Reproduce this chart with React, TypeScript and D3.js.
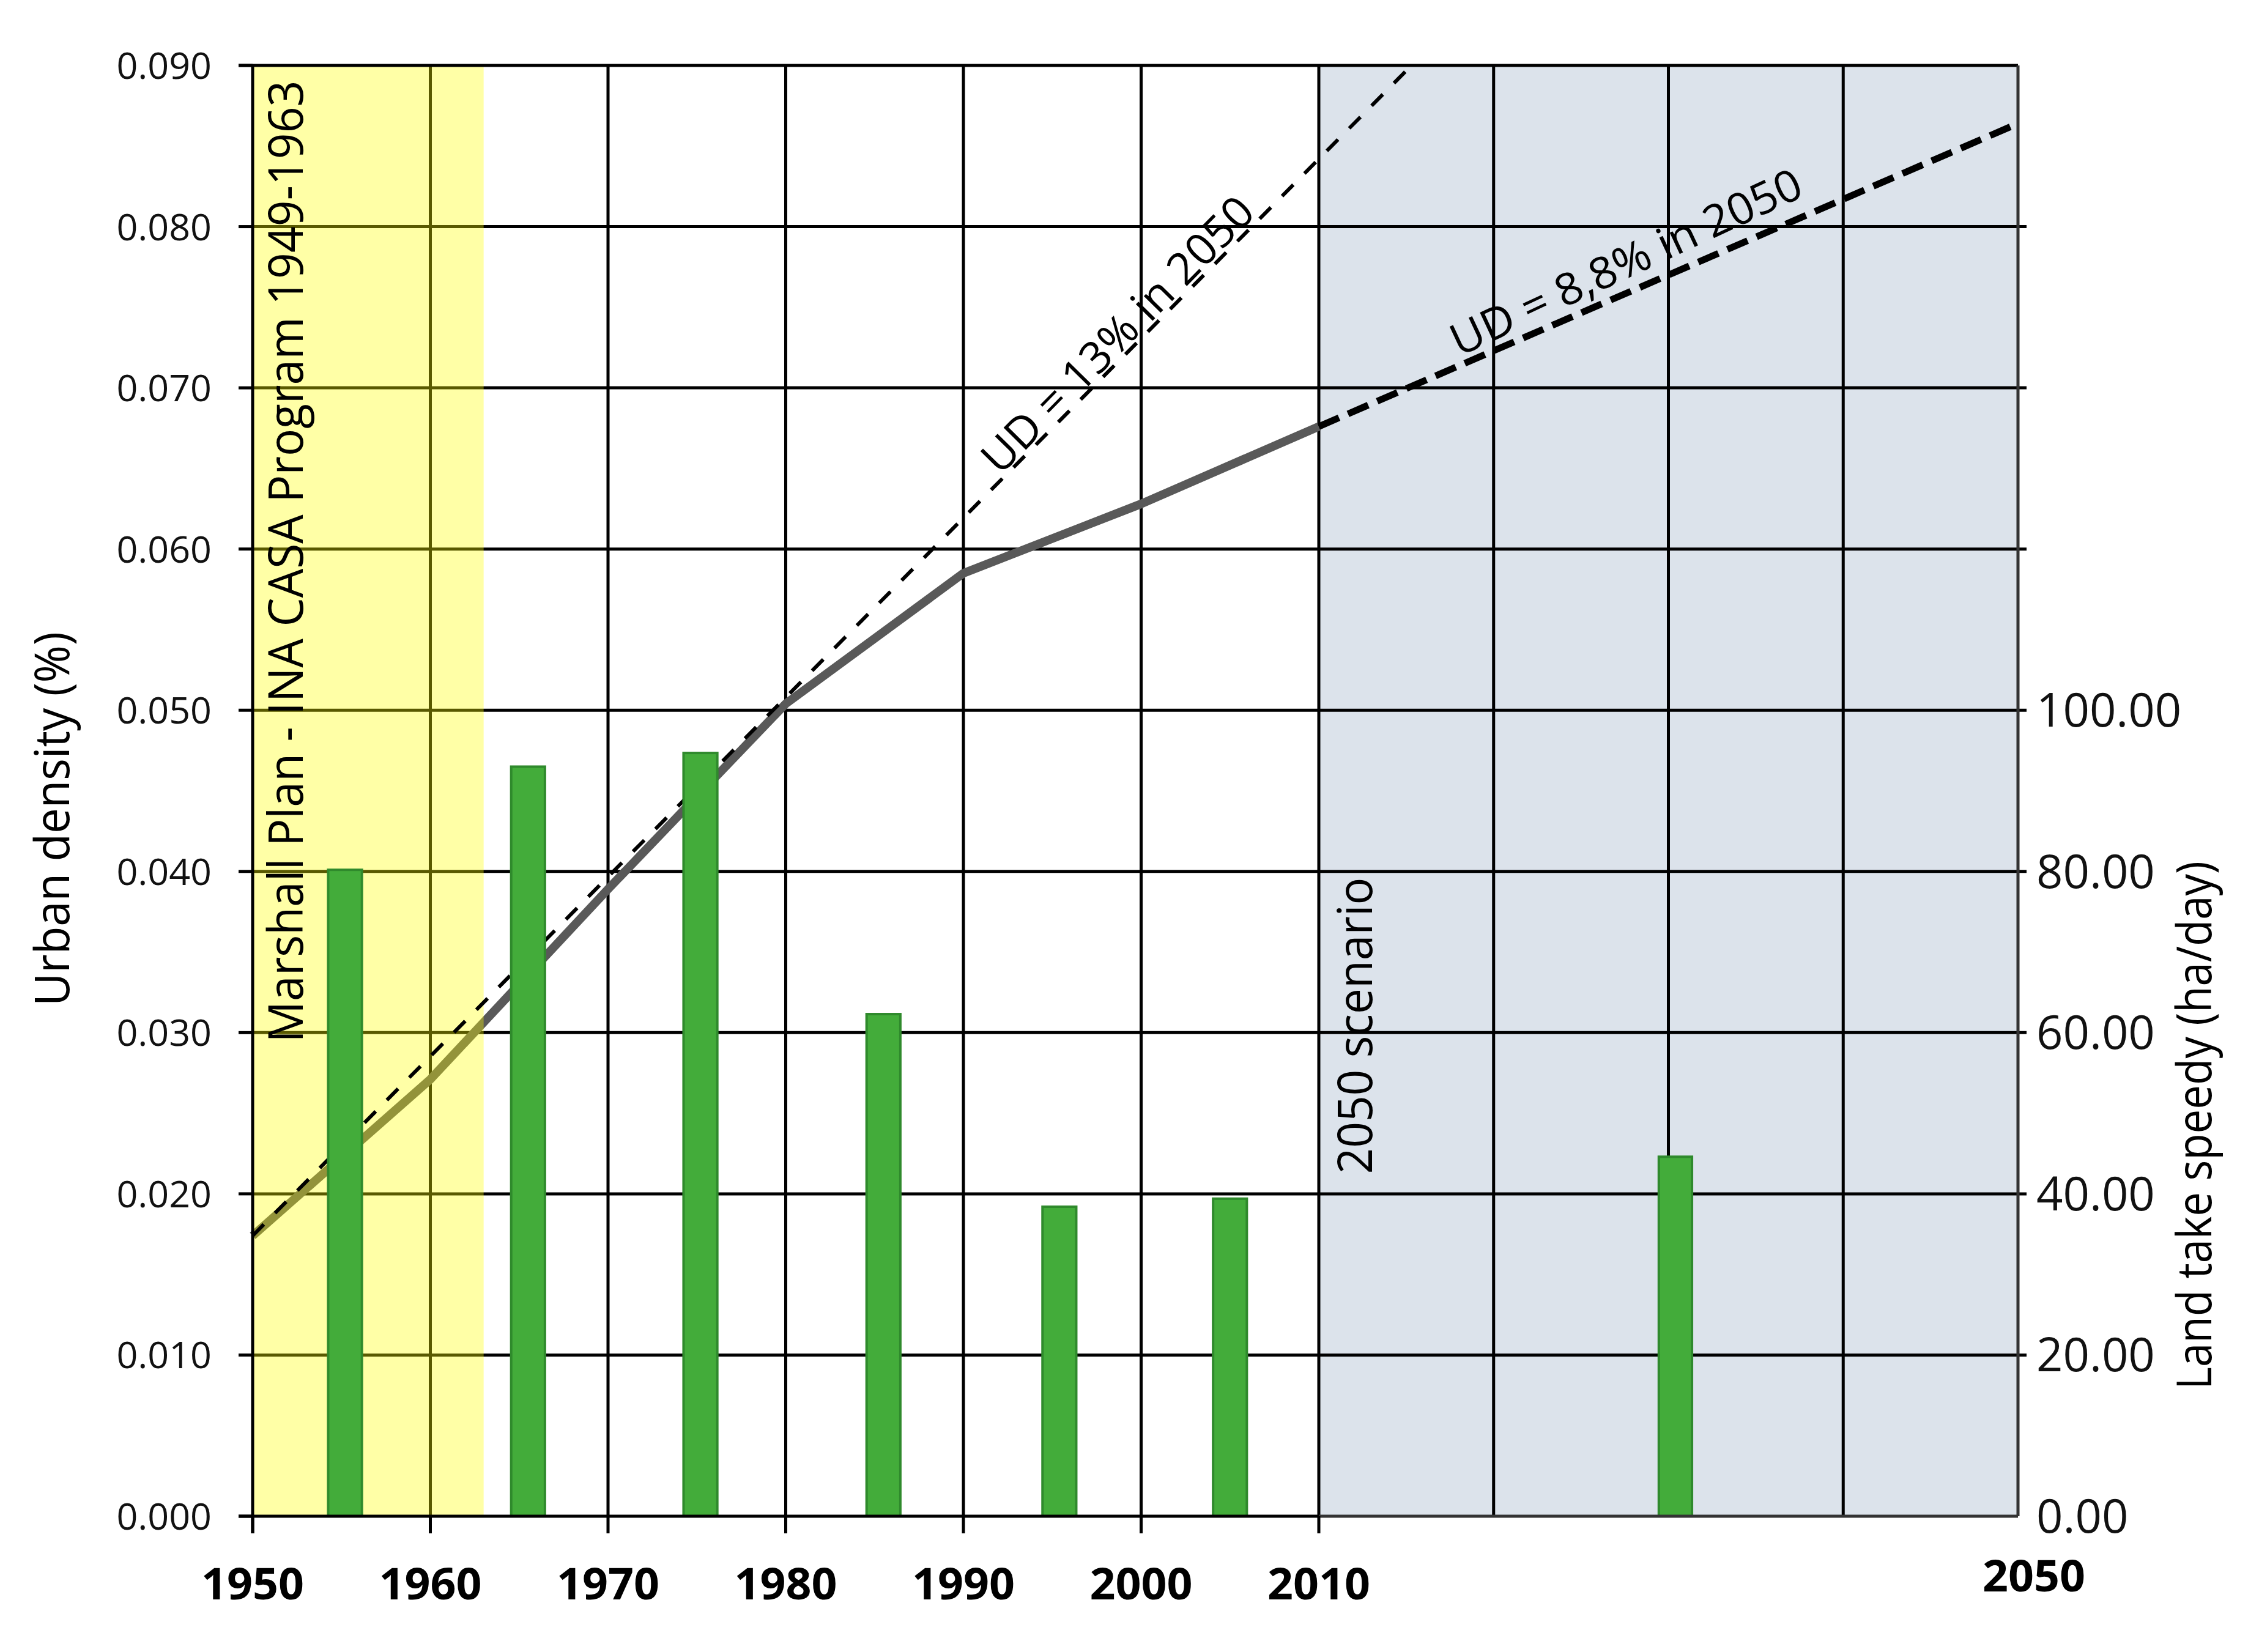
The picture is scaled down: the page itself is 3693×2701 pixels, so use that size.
import React from 'react';
import * as d3 from 'd3';

// urban density, observed
const udYears = [1950, 1960, 1970, 1980, 1990, 2000, 2010];
const udValues = [0.0174, 0.0271, 0.0389, 0.0504, 0.0585, 0.0628, 0.0676];

// trend lines
const trendYears = [1950, 2050];
const trendValues = [0.0174, 0.128];
const scenarioYears = [2010, 2050];
const scenarioValues = [0.0676, 0.0864];

// land take speed bars (ha/day)
const barYears = [1955.2, 1965.5, 1975.2, 1985.5, 1995.4, 2005.0, 2030.4];
const barValues = [80.2, 93.0, 94.7, 62.3, 38.4, 39.4, 44.6];

const leftTicks = [0, 0.01, 0.02, 0.03, 0.04, 0.05, 0.06, 0.07, 0.08, 0.09];
const rightTicks = [0, 20, 40, 60, 80, 100];
const xLabelYears = [1950, 1960, 1970, 1980, 1990, 2000, 2010, 2050];
const gridYears = [1960, 1970, 1980, 1990, 2000, 2010, 2020, 2030, 2040];

const marshall = [1950, 1963];
const scenario = [2010, 2050];

const W = 3693;
const H = 2701;
const m = { left: 413, right: 3299, top: 107, bottom: 2479 };
const font = "'Open Sans', sans-serif";

const App: React.FC = () => {
  // the source chart is a little wider per decade before 2010 than after
  const x = d3.scaleLinear().domain([1950, 2010, 2050]).range([m.left, 2156, m.right]);
  const y = d3.scaleLinear().domain([0, 0.09]).range([m.bottom, m.top]);
  const yR = d3.scaleLinear().domain([0, 100]).range([m.bottom, y(0.05)]);

  const line = d3.line<[number, number]>()
    .x(d => x(d[0]))
    .y(d => y(d[1]));

  const udPath = line(udYears.map((yr, i) => [yr, udValues[i]]) as [number, number][]) || '';
  const trendPath = line(trendYears.map((yr, i) => [yr, trendValues[i]]) as [number, number][]) || '';
  const scenPath = line(scenarioYears.map((yr, i) => [yr, scenarioValues[i]]) as [number, number][]) || '';

  const fmtL = d3.format('.3f');
  const fmtR = d3.format('.2f');
  const barHalf = 0.95;

  return (
    <svg width={W} height={H} style={{ position: 'absolute', left: 0, top: 0, background: '#fff' }} fontFamily={font}>
      <defs>
        <clipPath id="plot">
          <rect x={m.left} y={m.top} width={m.right - m.left} height={m.bottom - m.top} />
        </clipPath>
      </defs>

      {/* 2050 scenario band */}
      <rect x={x(scenario[0])} y={m.top} width={x(scenario[1]) - x(scenario[0])} height={m.bottom - m.top} fill="#dce3eb" />

      {/* grid */}
      {leftTicks.slice(1, -1).map(t => (
        <line key={'h' + t} x1={m.left} x2={m.right + 14} y1={y(t)} y2={y(t)} stroke="#000" strokeWidth={5} />
      ))}
      {gridYears.map(yr => (
        <line key={'v' + yr} x1={x(yr)} x2={x(yr)} y1={m.top} y2={m.bottom} stroke="#000" strokeWidth={5} />
      ))}

      {/* observed urban density */}
      <path d={udPath} fill="none" stroke="#595959" strokeWidth={14} strokeLinejoin="round" />

      {/* Marshall plan band, translucent over grid and line */}
      <rect x={x(marshall[0])} y={m.top} width={x(marshall[1]) - x(marshall[0])} height={m.bottom - m.top} fill="#ffff00" fillOpacity={0.35} />

      {/* projections */}
      <g clipPath="url(#plot)">
        <path d={trendPath} fill="none" stroke="#000" strokeWidth={6} strokeDasharray="26,26" />
        <path d={scenPath} fill="none" stroke="#000" strokeWidth={11} strokeDasharray="36,16" />
      </g>

      {/* land take bars */}
      {barYears.map((yr, i) => (
        <rect key={'b' + yr} x={x(yr - barHalf)} y={yR(barValues[i])} width={x(yr + barHalf) - x(yr - barHalf)}
          height={yR(0) - yR(barValues[i])} fill="#43ac3a" stroke="#2f8a2c" strokeWidth={4} />
      ))}

      {/* frame */}
      <line x1={m.left - 23} x2={m.right} y1={m.top} y2={m.top} stroke="#000" strokeWidth={5} />
      <line x1={m.left - 23} x2={x(scenario[0])} y1={m.bottom} y2={m.bottom} stroke="#000" strokeWidth={5} />
      <line x1={x(scenario[0])} x2={m.right} y1={m.bottom} y2={m.bottom} stroke="#333" strokeWidth={5} />
      <line x1={m.left} x2={m.left} y1={m.top} y2={m.bottom + 28} stroke="#000" strokeWidth={5} />
      <line x1={m.right} x2={m.right} y1={m.top} y2={m.bottom} stroke="#333" strokeWidth={5} />

      {/* left axis */}
      {leftTicks.map(t => (
        <g key={'l' + t}>
          <line x1={m.left - 23} x2={m.left} y1={y(t)} y2={y(t)} stroke="#000" strokeWidth={5} />
          <text x={346} y={y(t) + 22} textAnchor="end" fontSize={61} fill="#111">{fmtL(t)}</text>
        </g>
      ))}

      {/* right axis */}
      {rightTicks.map(t => (
        <text key={'r' + t} x={3329} y={yR(t) + 27} textAnchor="start" fontSize={76} fill="#111">{fmtR(t)}</text>
      ))}

      {/* x axis */}
      {xLabelYears.map(yr => (
        <g key={'x' + yr}>
          {yr <= 2010 && <line x1={x(yr)} x2={x(yr)} y1={m.bottom} y2={m.bottom + 28} stroke="#000" strokeWidth={5} />}
          <text x={x(yr) + (yr === 2050 ? 26 : 0)} y={yr === 2050 ? 2602 : 2615} textAnchor="middle"
            fontSize={72} fontWeight="bold" fill="#000" textLength={168} lengthAdjust="spacingAndGlyphs">{yr}</text>
        </g>
      ))}

      {/* axis titles */}
      <text transform="translate(113,1339) rotate(-90)" textAnchor="middle" fontSize={78} fill="#000"
        textLength={612} lengthAdjust="spacingAndGlyphs">Urban density (%)</text>
      <text transform="translate(3615,1840) rotate(-90)" textAnchor="middle" fontSize={78} fill="#000"
        textLength={864} lengthAdjust="spacingAndGlyphs">Land take speedy (ha/day)</text>

      {/* annotations */}
      <text transform="translate(495,918) rotate(-90)" textAnchor="middle" fontSize={78} fill="#000"
        textLength={1573} lengthAdjust="spacingAndGlyphs">Marshall Plan - INA CASA Program 1949-1963</text>
      <text transform="translate(2243,1677) rotate(-90)" textAnchor="middle" fontSize={78} fill="#000"
        textLength={485} lengthAdjust="spacingAndGlyphs">2050 scenario</text>
      <text transform="translate(1825,545) rotate(-45.5)" textAnchor="middle" dominantBaseline="central" fontSize={72}
        fill="#000" textLength={600} lengthAdjust="spacingAndGlyphs">UD = 13% in 2050</text>
      <text transform="translate(2657,426) rotate(-25)" textAnchor="middle" dominantBaseline="central" fontSize={72}
        fill="#000" textLength={625} lengthAdjust="spacingAndGlyphs">UD = 8,8% in 2050</text>
    </svg>
  );
};

export default App;
